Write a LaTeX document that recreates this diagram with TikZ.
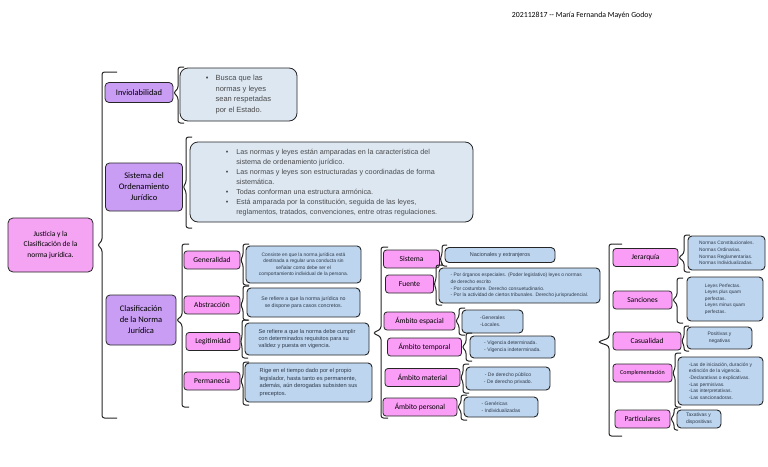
\documentclass[tikz,border=0pt]{standalone}
\usepackage{fontspec}
\setmainfont{Liberation Sans}
\newfontfamily\carl{Carlito}
\usepackage{xcolor}
\usepackage{tikz}
\usetikzlibrary{positioning,calc}
\definecolor{RootPink}{HTML}{F5A3F3}
\definecolor{LevelPurple}{HTML}{C99DF4}
\definecolor{LabelPink}{HTML}{FA9DF6}
\definecolor{NotePale}{HTML}{DDE7F2}
\definecolor{NoteBlue}{HTML}{BDD5EE}
\definecolor{EdgeDark}{HTML}{262626}
\definecolor{NoteText}{HTML}{4A4A4A}
\definecolor{SmallText}{HTML}{2F3A4A}
\newcommand{\curly}[6]{%
  \draw[brc] (#1+#6,#2) -- (#1,#2) -- (#1,#3-4) -- (#5) -- (#1,#3+4) -- (#1,#4) -- (#1+#6,#4);}

\begin{document}
\begin{tikzpicture}[x=1pt,y=-1pt,
  root/.style={draw=EdgeDark,line width=0.8pt,fill=RootPink,rounded corners=5pt,align=center,inner sep=1pt,font=\carl\fontsize{7.5}{10.5}\selectfont},
  topic/.style={draw=EdgeDark,line width=0.8pt,fill=LevelPurple,rounded corners=4pt,align=center,inner sep=1pt,font=\carl\fontsize{8.5}{11}\selectfont},
  kind/.style={draw=EdgeDark,line width=0.8pt,fill=LabelPink,rounded corners=3pt,align=center,inner sep=1pt,minimum height=18pt,font=\carl\fontsize{7.5}{9}\selectfont},
  pale/.style={draw=EdgeDark,line width=0.8pt,fill=NotePale,rounded corners=8pt,text=NoteText,inner sep=2pt},
  note/.style={draw=EdgeDark,line width=0.9pt,fill=NoteBlue,rounded corners=4pt,text=SmallText,inner sep=1.5pt,font=\fontsize{5}{7}\selectfont},
  brc/.style={draw=EdgeDark,line width=1pt,rounded corners=2.5pt}]
  \path[fill=white,use as bounding box] (0,0) rectangle (768,466);
  \node[font=\carl\fontsize{7.8}{9}\selectfont] (hdr) at (582,15) {202112817 -- María Fernanda Mayén Godoy};
  \node[root,minimum width=85pt,minimum height=54pt] (root) at (50.5,245) {Justicia y la\\Clasificación de la\\norma jurídica.};
  \curly{102}{72}{245}{418}{[xshift=4pt]root.east}{15}
  \node[topic,minimum width=68pt,minimum height=20pt] (inv) at (139,92.5) {Inviolabilidad};
  \node[topic,minimum width=77pt,minimum height=48pt] (sis) at (144,187) {Sistema del\\Ordenamiento\\Jurídico};
  \node[topic,minimum width=70pt,minimum height=50pt] (cla) at (141,320) {Clasificación\\de la Norma\\Jurídica};
  \curly{178}{67}{93}{123}{inv.east}{6}
  \node[pale,minimum width=117pt,minimum height=53pt,font=\fontsize{7.5}{10.7}\selectfont] (invd) at (238.5,94.5) {\begin{tabular}{@{}l@{\hspace{7pt}}l@{}}\textbullet & Busca que las\\ & normas y leyes\\ & sean respetadas\\ & por el Estado.\end{tabular}};
  \curly{186}{137}{187}{228}{sis.east}{6}
  \node[pale,minimum width=283pt,minimum height=80pt,font=\fontsize{7.2}{10}\selectfont] (sisd) at (331.5,182) {\begin{tabular}{@{}l@{\hspace{8pt}}l@{}}\textbullet & Las normas y leyes están amparadas en la característica del\\ & sistema de ordenamiento jurídico.\\ \textbullet & Las normas y leyes son estructuradas y coordinadas de forma\\ & sistemática.\\ \textbullet & Todas conforman una estructura armónica.\\ \textbullet & Está amparada por la constitución, seguida de las leyes,\\ & reglamentos, tratados, convenciones, entre otras regulaciones.\end{tabular}};
  \curly{182}{244}{320}{407}{cla.east}{7}
  \node[kind,minimum width=56pt] (gen) at (212,260) {Generalidad};
  \node[kind,minimum width=56pt] (abs) at (212,305) {Abstracción};
  \node[kind,minimum width=54pt] (leg) at (213,341.5) {Legitimidad};
  \node[kind,minimum width=56pt] (per) at (212,381) {Permanecía};
  \curly{243}{244}{260}{285}{gen.east}{6}
  \node[note,minimum width=115pt,minimum height=37pt,align=center,font=\fontsize{4.9}{6.5}\selectfont] (gend) at (303.5,264.5) {Consiste en que la norma jurídica está\\destinada a regular una conducta sin\\señalar como debe ser el\\comportamiento individual de la persona.};
  \curly{243}{286}{305}{320}{abs.east}{6}
  \node[note,minimum width=113pt,minimum height=29pt,align=center,font=\fontsize{5.2}{7.3}\selectfont] (absd) at (303.5,302.5) {Se refiere a que la norma jurídica no\\se dispone para casos concretos.};
  \curly{242}{320}{341.5}{358}{leg.east}{6}
  \node[note,minimum width=124pt,minimum height=32pt,align=left,font=\fontsize{5.6}{7}\selectfont] (legd) at (307,339) {Se refiere a que la norma debe cumplir\\con determinados requisitos para su\\validez y puesta en vigencia.};
  \curly{243}{362}{381}{405}{per.east}{6}
  \node[note,minimum width=127pt,minimum height=39pt,align=left,font=\fontsize{5.7}{7.6}\selectfont] (perd) at (308.5,382.5) {Rige en el tiempo dado por el propio\\legislador, hasta tanto es permanente,\\además, aún derogadas subsisten sus\\preceptos.};
  \coordinate (tipc) at (373,333);
  \curly{381}{247}{333}{418}{tipc}{7}
  \node[kind,minimum width=56pt] (sys) at (411.5,259) {Sistema};
  \node[kind,minimum width=48pt] (fue) at (409.5,284) {Fuente};
  \node[kind,minimum width=71pt] (esp) at (419.5,321) {Ámbito espacial};
  \node[kind,minimum width=74pt] (tem) at (424.5,347) {Ámbito temporal};
  \node[kind,minimum width=75pt] (mat) at (422.5,377.5) {Ámbito material};
  \node[kind,minimum width=74pt] (pers) at (420,407) {Ámbito personal};
  \curly{442}{245}{259}{266}{sys.east}{5}
  \node[note,minimum width=110pt,minimum height=15pt,align=center,font=\fontsize{5.5}{7}\selectfont] (sysd) at (500,255) {Nacionales y extranjeros};
  \curly{436}{265}{284}{305}{fue.east}{6}
  \node[note,minimum width=161pt,minimum height=35pt,align=left,font=\fontsize{4.9}{6.6}\selectfont] (fued) at (519.5,285.5) {- Por órganos especiales. (Poder legislativo) leyes o normas\\de derecho escrito\\- Por costumbre. Derecho consuetudinario.\\- Por la actividad de ciertos tribunales. Derecho jurisprudencial.};
  \curly{459}{308}{321}{335}{esp.east}{6}
  \node[note,minimum width=61pt,minimum height=23pt,align=left] (espd) at (492.5,321.5) {-Generales\\-Locales.\hspace{22pt}};
  \curly{466}{333}{347}{361}{tem.east}{6}
  \node[note,minimum width=85pt,minimum height=22pt,align=left] (temd) at (512.5,347) {- Vigencia determinada.\\- Vigencia indeterminada.};
  \curly{463}{364}{377.5}{393}{mat.east}{6}
  \node[note,minimum width=84pt,minimum height=23pt,align=center] (matd) at (508,378.5) {- De derecho público\\- De derecho privado.};
  \curly{461}{395}{407}{420}{pers.east}{6}
  \node[note,minimum width=74pt,minimum height=20pt,align=left] (persd) at (501,407) {- Genéricas\hspace{30pt}\\- Individualizadas};
  \coordinate (tipd) at (598,342);
  \curly{609}{244}{342}{436}{tipd}{13}
  \node[kind,minimum width=65pt] (jer) at (645.5,257.5) {Jerarquía};
  \node[kind,minimum width=59pt] (san) at (642.5,300) {Sanciones};
  \node[kind,minimum width=68pt] (cas) at (647,341) {Casualidad};
  \node[kind,minimum width=59pt,font=\carl\fontsize{6}{8}\selectfont] (com) at (642.5,373) {Complementación};
  \node[kind,minimum width=55pt] (par) at (642.5,419) {Particulares};
  \curly{684}{235}{257.5}{272}{jer.east}{6}
  \node[note,minimum width=77pt,minimum height=34pt,align=left,font=\fontsize{4.8}{6.6}\selectfont] (jerd) at (726.5,253) {Normas Constitucionales.\\Normas Ordinarias.\\Normas Reglamentarias.\\Normas Individualizadas.};
  \curly{677}{278}{300}{323}{san.east}{6}
  \node[note,minimum width=76pt,minimum height=44pt,align=left,font=\fontsize{4.8}{6.6}\selectfont] (sand) at (725,299) {Leyes Perfectas.\hspace{20pt}\\Leyes plus quam\\perfectas.\\Leyes minus quam\\perfectas.};
  \curly{684}{326}{341}{351}{cas.east}{5}
  \node[note,minimum width=65pt,minimum height=22pt,align=center] (casd) at (719.5,338) {Positivas y\\negativas};
  \curly{675}{353}{373}{407}{com.east}{6}
  \node[note,minimum width=85pt,minimum height=48pt,align=left,font=\fontsize{4.9}{6.6}\selectfont] (comd) at (720.5,381) {-Las de iniciación, duración y\\extinción de la vigencia.\\-Declarativas o explicativas.\\-Las permisivas.\\-Las interpretativas.\\-Las sancionadoras.};
  \curly{674}{408}{419}{430}{par.east}{4}
  \node[note,minimum width=44pt,minimum height=18pt,align=left] (pard) at (699,419) {Taxativas y\\dispositivas};
\end{tikzpicture}
\end{document}
